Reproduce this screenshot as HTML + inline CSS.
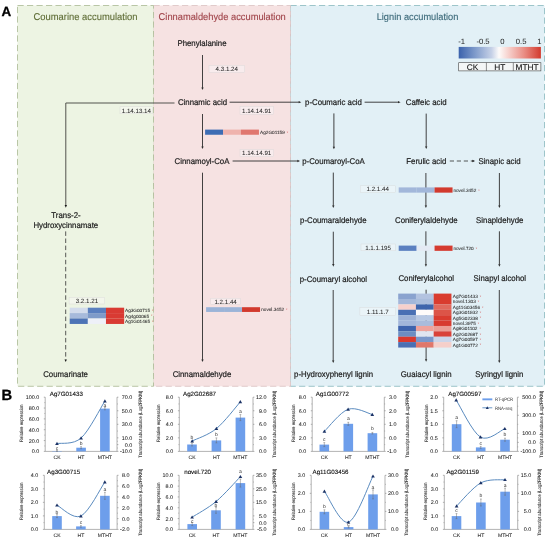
<!DOCTYPE html>
<html><head><meta charset="utf-8"><style>
html,body{margin:0;padding:0;background:#fff;}
svg{display:block;will-change:transform;}
text{font-family:"Liberation Sans", sans-serif;text-rendering:geometricPrecision;}
</style></head><body>
<svg width="550" height="542" viewBox="0 0 550 542" font-family='"Liberation Sans", sans-serif'>
<rect width="550" height="542" fill="#fff"/>
<rect x="290.50" y="5.50" width="254.00" height="380.80" fill="#e2f0f6" stroke="#88b8be" stroke-width="0.8" stroke-dasharray="6.2,3.3"/>
<rect x="153.50" y="5.50" width="137.00" height="380.80" fill="#f6e2e2" stroke="#dbc2c2" stroke-width="0.8" stroke-dasharray="6.2,3.3"/>
<rect x="17.50" y="5.50" width="136.00" height="380.80" fill="#edf4e3" stroke="#aab993" stroke-width="0.8" stroke-dasharray="6.2,3.3"/>
<text x="1.40" y="15.80" font-size="13.4" fill="#000" text-anchor="start" font-weight="bold" stroke="#000" stroke-width="0.3" >A</text>
<text x="85.50" y="19.70" font-size="9.9" fill="#5f6d36" text-anchor="middle" font-weight="normal" stroke="#5f6d36" stroke-width="0.12" textLength="104.00" lengthAdjust="spacingAndGlyphs" >Coumarine accumulation</text>
<text x="222.20" y="19.60" font-size="9.9" fill="#a0444a" text-anchor="middle" font-weight="normal" stroke="#a0444a" stroke-width="0.12" textLength="127.20" lengthAdjust="spacingAndGlyphs" >Cinnamaldehyde accumulation</text>
<text x="417.50" y="19.80" font-size="9.8" fill="#3a6878" text-anchor="middle" font-weight="normal" stroke="#3a6878" stroke-width="0.12" textLength="81.60" lengthAdjust="spacingAndGlyphs" >Lignin accumulation</text>
<defs><linearGradient id="cb" x1="0" x2="1" y1="0" y2="0"><stop offset="0" stop-color="#3b62ac"/><stop offset="0.2" stop-color="#7f9bcb"/><stop offset="0.4" stop-color="#c6d1e7"/><stop offset="0.49" stop-color="#fdfbfa"/><stop offset="0.6" stop-color="#f7d3cf"/><stop offset="0.8" stop-color="#e98b82"/><stop offset="1" stop-color="#d23a2e"/></linearGradient></defs>
<rect x="458.70" y="46.90" width="82.20" height="11.60" fill="url(#cb)"/>
<text x="461.70" y="44.20" font-size="7.7" fill="#1a1a1a" text-anchor="middle" font-weight="normal" >-1</text>
<text x="483.00" y="44.20" font-size="7.7" fill="#1a1a1a" text-anchor="middle" font-weight="normal" >-0.5</text>
<text x="502.50" y="44.20" font-size="7.7" fill="#1a1a1a" text-anchor="middle" font-weight="normal" >0</text>
<text x="521.10" y="44.20" font-size="7.7" fill="#1a1a1a" text-anchor="middle" font-weight="normal" >0.5</text>
<text x="539.40" y="44.20" font-size="7.7" fill="#1a1a1a" text-anchor="middle" font-weight="normal" >1</text>
<rect x="458.70" y="62.70" width="82.20" height="8.20" fill="#f4f6f6" stroke="#444" stroke-width="0.6"/>
<line x1="486.40" y1="62.70" x2="486.40" y2="70.90" stroke="#444" stroke-width="0.6"/>
<line x1="513.30" y1="62.70" x2="513.30" y2="70.90" stroke="#444" stroke-width="0.6"/>
<text x="472.50" y="70.40" font-size="8.3" fill="#111" text-anchor="middle" font-weight="normal" stroke="#111" stroke-width="0.1" >CK</text>
<text x="499.90" y="70.40" font-size="8.3" fill="#111" text-anchor="middle" font-weight="normal" stroke="#111" stroke-width="0.1" >HT</text>
<text x="527.10" y="70.40" font-size="8.3" fill="#111" text-anchor="middle" font-weight="normal" stroke="#111" stroke-width="0.1" >MTHT</text>
<text x="202.00" y="46.00" font-size="8.3" fill="#1c1c1c" text-anchor="middle" font-weight="normal" stroke="#1c1c1c" stroke-width="0.2" textLength="49.13" lengthAdjust="spacingAndGlyphs" >Phenylalanine</text>
<text x="202.50" y="104.70" font-size="8.3" fill="#1c1c1c" text-anchor="middle" font-weight="normal" stroke="#1c1c1c" stroke-width="0.2" textLength="49.11" lengthAdjust="spacingAndGlyphs" >Cinnamic acid</text>
<text x="202.00" y="163.80" font-size="8.3" fill="#1c1c1c" text-anchor="middle" font-weight="normal" stroke="#1c1c1c" stroke-width="0.2" textLength="54.76" lengthAdjust="spacingAndGlyphs" >Cinnamoyl-CoA</text>
<text x="202.00" y="377.40" font-size="8.3" fill="#1c1c1c" text-anchor="middle" font-weight="normal" stroke="#1c1c1c" stroke-width="0.2" textLength="58.69" lengthAdjust="spacingAndGlyphs" >Cinnamaldehyde</text>
<text x="333.50" y="104.70" font-size="8.3" fill="#1c1c1c" text-anchor="middle" font-weight="normal" stroke="#1c1c1c" stroke-width="0.2" textLength="56.93" lengthAdjust="spacingAndGlyphs" >p-Coumaric acid</text>
<text x="426.20" y="104.70" font-size="8.3" fill="#1c1c1c" text-anchor="middle" font-weight="normal" stroke="#1c1c1c" stroke-width="0.2" textLength="40.72" lengthAdjust="spacingAndGlyphs" >Caffeic acid</text>
<text x="333.50" y="163.80" font-size="8.3" fill="#1c1c1c" text-anchor="middle" font-weight="normal" stroke="#1c1c1c" stroke-width="0.2" textLength="62.58" lengthAdjust="spacingAndGlyphs" >p-Coumaroyl-CoA</text>
<text x="426.30" y="163.60" font-size="8.3" fill="#1c1c1c" text-anchor="middle" font-weight="normal" stroke="#1c1c1c" stroke-width="0.2" textLength="39.98" lengthAdjust="spacingAndGlyphs" >Ferulic acid</text>
<text x="499.50" y="163.60" font-size="8.3" fill="#1c1c1c" text-anchor="middle" font-weight="normal" stroke="#1c1c1c" stroke-width="0.2" textLength="42.17" lengthAdjust="spacingAndGlyphs" >Sinapic acid</text>
<text x="333.30" y="222.70" font-size="8.3" fill="#1c1c1c" text-anchor="middle" font-weight="normal" stroke="#1c1c1c" stroke-width="0.2" textLength="66.51" lengthAdjust="spacingAndGlyphs" >p-Coumaraldehyde</text>
<text x="426.30" y="222.50" font-size="8.3" fill="#1c1c1c" text-anchor="middle" font-weight="normal" stroke="#1c1c1c" stroke-width="0.2" textLength="62.60" lengthAdjust="spacingAndGlyphs" >Coniferylaldehyde</text>
<text x="499.80" y="222.50" font-size="8.3" fill="#1c1c1c" text-anchor="middle" font-weight="normal" stroke="#1c1c1c" stroke-width="0.2" textLength="47.39" lengthAdjust="spacingAndGlyphs" >Sinapldehyde</text>
<text x="333.40" y="281.70" font-size="8.3" fill="#1c1c1c" text-anchor="middle" font-weight="normal" stroke="#1c1c1c" stroke-width="0.2" textLength="67.37" lengthAdjust="spacingAndGlyphs" >p-Coumaryl alcohol</text>
<text x="426.30" y="281.30" font-size="8.3" fill="#1c1c1c" text-anchor="middle" font-weight="normal" stroke="#1c1c1c" stroke-width="0.2" textLength="55.64" lengthAdjust="spacingAndGlyphs" >Coniferylalcohol</text>
<text x="499.80" y="281.30" font-size="8.3" fill="#1c1c1c" text-anchor="middle" font-weight="normal" stroke="#1c1c1c" stroke-width="0.2" textLength="52.60" lengthAdjust="spacingAndGlyphs" >Sinapyl alcohol</text>
<text x="333.60" y="377.40" font-size="8.3" fill="#1c1c1c" text-anchor="middle" font-weight="normal" stroke="#1c1c1c" stroke-width="0.2" textLength="79.11" lengthAdjust="spacingAndGlyphs" >p-Hydroxyphenyl lignin</text>
<text x="426.20" y="377.40" font-size="8.3" fill="#1c1c1c" text-anchor="middle" font-weight="normal" stroke="#1c1c1c" stroke-width="0.2" textLength="50.86" lengthAdjust="spacingAndGlyphs" >Guaiacyl lignin</text>
<text x="499.30" y="377.40" font-size="8.3" fill="#1c1c1c" text-anchor="middle" font-weight="normal" stroke="#1c1c1c" stroke-width="0.2" textLength="48.25" lengthAdjust="spacingAndGlyphs" >Syringyl lignin</text>
<text x="65.60" y="377.40" font-size="8.3" fill="#1c1c1c" text-anchor="middle" font-weight="normal" stroke="#1c1c1c" stroke-width="0.2" textLength="44.77" lengthAdjust="spacingAndGlyphs" >Coumarinate</text>
<text x="66.00" y="217.50" font-size="8.3" fill="#1c1c1c" text-anchor="middle" font-weight="normal" stroke="#1c1c1c" stroke-width="0.2" textLength="29.26" lengthAdjust="spacingAndGlyphs" >Trans-2-</text>
<text x="65.80" y="228.30" font-size="8.3" fill="#1c1c1c" text-anchor="middle" font-weight="normal" stroke="#1c1c1c" stroke-width="0.2" textLength="64.76" lengthAdjust="spacingAndGlyphs" >Hydroxycinnamate</text>
<line x1="202.50" y1="55.00" x2="202.50" y2="88.00" stroke="#2e2e2e" stroke-width="0.9"/>
<polygon points="201.33,87.40 203.67,87.40 202.50,90.00" fill="#2e2e2e"/>
<line x1="202.50" y1="114.00" x2="202.50" y2="147.00" stroke="#2e2e2e" stroke-width="0.9"/>
<polygon points="201.33,146.40 203.67,146.40 202.50,149.00" fill="#2e2e2e"/>
<line x1="202.50" y1="172.70" x2="202.50" y2="360.00" stroke="#2e2e2e" stroke-width="0.9"/>
<polygon points="201.33,359.40 203.67,359.40 202.50,362.00" fill="#2e2e2e"/>
<polyline points="174.5,103.0 65.8,103.0 65.8,205.5" fill="none" stroke="#4a4a46" stroke-width="0.95" stroke-linejoin="round"/>
<polygon points="64.63,205.10 66.97,205.10 65.80,207.70" fill="#151515"/>
<line x1="229.60" y1="102.20" x2="299.30" y2="102.20" stroke="#2e2e2e" stroke-width="0.9"/>
<polygon points="298.70,101.03 298.70,103.37 301.30,102.20" fill="#2e2e2e"/>
<line x1="364.60" y1="102.20" x2="398.60" y2="102.20" stroke="#2e2e2e" stroke-width="0.9"/>
<polygon points="398.00,101.03 398.00,103.37 400.60,102.20" fill="#2e2e2e"/>
<line x1="232.60" y1="161.00" x2="298.00" y2="161.00" stroke="#2e2e2e" stroke-width="0.9"/>
<polygon points="297.40,159.83 297.40,162.17 300.00,161.00" fill="#2e2e2e"/>
<line x1="333.90" y1="113.40" x2="333.90" y2="147.30" stroke="#2e2e2e" stroke-width="0.9"/>
<polygon points="332.73,146.70 335.07,146.70 333.90,149.30" fill="#2e2e2e"/>
<line x1="426.20" y1="113.60" x2="426.20" y2="147.00" stroke="#2e2e2e" stroke-width="0.9"/>
<polygon points="425.03,146.40 427.37,146.40 426.20,149.00" fill="#2e2e2e"/>
<line x1="449.80" y1="161.00" x2="473.00" y2="161.00" stroke="#2e2e2e" stroke-width="0.8" stroke-dasharray="4.2,2.8"/>
<polygon points="472.40,159.83 472.40,162.17 475.00,161.00" fill="#151515"/>
<line x1="333.30" y1="172.60" x2="333.30" y2="206.00" stroke="#2e2e2e" stroke-width="0.9"/>
<polygon points="332.13,205.40 334.47,205.40 333.30,208.00" fill="#2e2e2e"/>
<line x1="425.90" y1="173.00" x2="425.90" y2="206.00" stroke="#2e2e2e" stroke-width="0.9"/>
<polygon points="424.73,205.40 427.07,205.40 425.90,208.00" fill="#2e2e2e"/>
<line x1="499.40" y1="173.00" x2="499.40" y2="206.00" stroke="#2e2e2e" stroke-width="0.9"/>
<polygon points="498.23,205.40 500.57,205.40 499.40,208.00" fill="#2e2e2e"/>
<line x1="333.30" y1="231.70" x2="333.30" y2="264.70" stroke="#2e2e2e" stroke-width="0.9"/>
<polygon points="332.13,264.10 334.47,264.10 333.30,266.70" fill="#2e2e2e"/>
<line x1="425.90" y1="231.30" x2="425.90" y2="264.80" stroke="#2e2e2e" stroke-width="0.9"/>
<polygon points="424.73,264.20 427.07,264.20 425.90,266.80" fill="#2e2e2e"/>
<line x1="499.40" y1="231.30" x2="499.40" y2="264.80" stroke="#2e2e2e" stroke-width="0.9"/>
<polygon points="498.23,264.20 500.57,264.20 499.40,266.80" fill="#2e2e2e"/>
<line x1="333.20" y1="290.00" x2="333.20" y2="361.00" stroke="#2e2e2e" stroke-width="0.9"/>
<polygon points="332.03,360.40 334.37,360.40 333.20,363.00" fill="#2e2e2e"/>
<line x1="426.10" y1="289.70" x2="426.10" y2="359.80" stroke="#2e2e2e" stroke-width="0.9"/>
<polygon points="424.93,359.20 427.27,359.20 426.10,361.80" fill="#2e2e2e"/>
<line x1="499.30" y1="290.00" x2="499.30" y2="361.00" stroke="#2e2e2e" stroke-width="0.9"/>
<polygon points="498.13,360.40 500.47,360.40 499.30,363.00" fill="#2e2e2e"/>
<line x1="65.70" y1="231.40" x2="65.70" y2="359.50" stroke="#2e2e2e" stroke-width="0.8" stroke-dasharray="4.5,2.6"/>
<polygon points="64.53,359.40 66.87,359.40 65.70,362.00" fill="#151515"/>
<rect x="209.00" y="65.50" width="35.50" height="6.80" fill="#f8eced" stroke="#d8d8d8" stroke-width="0.4"/>
<text x="226.75" y="71.10" font-size="6.2" fill="#1e1e1e" text-anchor="middle" font-weight="normal" stroke="#1e1e1e" stroke-width="0.03" >4.3.1.24</text>
<rect x="120.00" y="106.80" width="32.70" height="7.00" fill="#f3f6ec" stroke="#d8d8d8" stroke-width="0.4"/>
<text x="136.35" y="112.50" font-size="6.2" fill="#1e1e1e" text-anchor="middle" font-weight="normal" stroke="#1e1e1e" stroke-width="0.03" >1.14.13.14</text>
<rect x="240.00" y="106.50" width="33.30" height="7.70" fill="#f8eced" stroke="#d8d8d8" stroke-width="0.4"/>
<text x="256.65" y="112.55" font-size="6.2" fill="#1e1e1e" text-anchor="middle" font-weight="normal" stroke="#1e1e1e" stroke-width="0.03" >1.14.14.91</text>
<rect x="240.00" y="149.60" width="33.30" height="7.00" fill="#f8eced" stroke="#d8d8d8" stroke-width="0.4"/>
<text x="256.65" y="155.30" font-size="6.2" fill="#1e1e1e" text-anchor="middle" font-weight="normal" stroke="#1e1e1e" stroke-width="0.03" >1.14.14.91</text>
<rect x="210.80" y="298.20" width="29.60" height="6.20" fill="#f8eced" stroke="#d8d8d8" stroke-width="0.4"/>
<text x="225.60" y="303.50" font-size="6.2" fill="#1e1e1e" text-anchor="middle" font-weight="normal" stroke="#1e1e1e" stroke-width="0.03" >1.2.1.44</text>
<rect x="69.10" y="297.20" width="35.60" height="6.80" fill="#f3f6ec" stroke="#d8d8d8" stroke-width="0.4"/>
<text x="86.90" y="302.80" font-size="6.2" fill="#1e1e1e" text-anchor="middle" font-weight="normal" stroke="#1e1e1e" stroke-width="0.03" >3.2.1.21</text>
<rect x="360.20" y="185.80" width="35.00" height="6.90" fill="#eaf4f8" stroke="#d8d8d8" stroke-width="0.4"/>
<text x="377.70" y="191.45" font-size="6.2" fill="#1e1e1e" text-anchor="middle" font-weight="normal" stroke="#1e1e1e" stroke-width="0.03" >1.2.1.44</text>
<rect x="361.00" y="244.00" width="34.20" height="6.80" fill="#eaf4f8" stroke="#d8d8d8" stroke-width="0.4"/>
<text x="378.10" y="249.60" font-size="6.2" fill="#1e1e1e" text-anchor="middle" font-weight="normal" stroke="#1e1e1e" stroke-width="0.03" >1.1.1.195</text>
<rect x="359.90" y="307.50" width="35.70" height="7.80" fill="#eaf4f8" stroke="#d8d8d8" stroke-width="0.4"/>
<text x="377.75" y="313.60" font-size="6.2" fill="#1e1e1e" text-anchor="middle" font-weight="normal" stroke="#1e1e1e" stroke-width="0.03" >1.11.1.7</text>
<rect x="205.10" y="129.60" width="17.98" height="5.15" fill="#3d6db4"/>
<rect x="223.03" y="129.60" width="17.98" height="5.15" fill="#efb3ad"/>
<rect x="240.97" y="129.60" width="17.98" height="5.15" fill="#e0776f"/>
<text x="260.10" y="133.85" font-size="4.7" fill="#1e1e1e" text-anchor="start" font-weight="normal" stroke="#1e1e1e" stroke-width="0.05" >Ag2G01159</text>
<text x="286.74" y="133.75" font-size="3.6" fill="#d04848" text-anchor="start" font-weight="normal" >*</text>
<rect x="69.70" y="307.70" width="18.18" height="5.45" fill="#d3dcec"/>
<rect x="87.83" y="307.70" width="18.18" height="5.45" fill="#5a7fbf"/>
<rect x="105.97" y="307.70" width="18.18" height="5.45" fill="#d93a33"/>
<rect x="69.70" y="313.10" width="18.18" height="5.45" fill="#a7badb"/>
<rect x="87.83" y="313.10" width="18.18" height="5.45" fill="#7f9bc9"/>
<rect x="105.97" y="313.10" width="18.18" height="5.45" fill="#d93a33"/>
<rect x="69.70" y="318.50" width="18.18" height="5.45" fill="#4d73b6"/>
<rect x="87.83" y="318.50" width="18.18" height="5.45" fill="#eef0f8"/>
<rect x="105.97" y="318.50" width="18.18" height="5.45" fill="#d93a33"/>
<text x="125.00" y="312.10" font-size="4.7" fill="#1e1e1e" text-anchor="start" font-weight="normal" stroke="#1e1e1e" stroke-width="0.05" >Ag3G00715</text>
<text x="151.99" y="312.00" font-size="3.6" fill="#d04848" text-anchor="start" font-weight="normal" >*</text>
<text x="125.00" y="317.50" font-size="4.7" fill="#1e1e1e" text-anchor="start" font-weight="normal" stroke="#1e1e1e" stroke-width="0.05" >Ag4g00065</text>
<text x="150.95" y="317.40" font-size="3.6" fill="#d04848" text-anchor="start" font-weight="normal" >*</text>
<text x="125.00" y="322.90" font-size="4.7" fill="#1e1e1e" text-anchor="start" font-weight="normal" stroke="#1e1e1e" stroke-width="0.05" >Ag1G01465</text>
<text x="151.99" y="322.80" font-size="3.6" fill="#d04848" text-anchor="start" font-weight="normal" >*</text>
<rect x="206.10" y="307.20" width="18.02" height="4.75" fill="#9bb4d8"/>
<rect x="224.07" y="307.20" width="18.02" height="4.75" fill="#9bb4d8"/>
<rect x="242.03" y="307.20" width="18.02" height="4.75" fill="#d23a2e"/>
<text x="261.20" y="311.25" font-size="4.7" fill="#1e1e1e" text-anchor="start" font-weight="normal" stroke="#1e1e1e" stroke-width="0.05" >novel.3452</text>
<text x="286.10" y="311.15" font-size="3.6" fill="#d04848" text-anchor="start" font-weight="normal" >*</text>
<rect x="398.70" y="187.40" width="17.98" height="5.25" fill="#a2b7da"/>
<rect x="416.63" y="187.40" width="17.98" height="5.25" fill="#a2b7da"/>
<rect x="434.57" y="187.40" width="17.98" height="5.25" fill="#d23a2e"/>
<text x="453.40" y="191.70" font-size="4.7" fill="#1e1e1e" text-anchor="start" font-weight="normal" stroke="#1e1e1e" stroke-width="0.05" >novel.3452</text>
<text x="478.30" y="191.60" font-size="3.6" fill="#d04848" text-anchor="start" font-weight="normal" >*</text>
<rect x="398.70" y="245.60" width="17.98" height="5.25" fill="#5b80c0"/>
<rect x="416.63" y="245.60" width="17.98" height="5.25" fill="#e4eaf4"/>
<rect x="434.57" y="245.60" width="17.98" height="5.25" fill="#d53b30"/>
<text x="453.40" y="249.90" font-size="4.7" fill="#1e1e1e" text-anchor="start" font-weight="normal" stroke="#1e1e1e" stroke-width="0.05" >novel.720</text>
<text x="475.68" y="249.80" font-size="3.6" fill="#d04848" text-anchor="start" font-weight="normal" >*</text>
<rect x="398.20" y="293.60" width="17.78" height="5.44" fill="#8aa3cf"/>
<rect x="415.93" y="293.60" width="17.78" height="5.44" fill="#b3c3e0"/>
<rect x="433.67" y="293.60" width="17.78" height="5.44" fill="#d93c2f"/>
<rect x="398.20" y="298.99" width="17.78" height="5.44" fill="#a3b7da"/>
<rect x="415.93" y="298.99" width="17.78" height="5.44" fill="#aabddc"/>
<rect x="433.67" y="298.99" width="17.78" height="5.44" fill="#d93c2f"/>
<rect x="398.20" y="304.38" width="17.78" height="5.44" fill="#f6d0cc"/>
<rect x="415.93" y="304.38" width="17.78" height="5.44" fill="#3e65ac"/>
<rect x="433.67" y="304.38" width="17.78" height="5.44" fill="#e06a5e"/>
<rect x="398.20" y="309.77" width="17.78" height="5.44" fill="#4a70b4"/>
<rect x="415.93" y="309.77" width="17.78" height="5.44" fill="#fefbfa"/>
<rect x="433.67" y="309.77" width="17.78" height="5.44" fill="#dc5448"/>
<rect x="398.20" y="315.16" width="17.78" height="5.44" fill="#9db2d7"/>
<rect x="415.93" y="315.16" width="17.78" height="5.44" fill="#b8c8e3"/>
<rect x="433.67" y="315.16" width="17.78" height="5.44" fill="#d93c30"/>
<rect x="398.20" y="320.55" width="17.78" height="5.44" fill="#a2b6da"/>
<rect x="415.93" y="320.55" width="17.78" height="5.44" fill="#a9bcdc"/>
<rect x="433.67" y="320.55" width="17.78" height="5.44" fill="#d83b30"/>
<rect x="398.20" y="325.94" width="17.78" height="5.44" fill="#3e64ad"/>
<rect x="415.93" y="325.94" width="17.78" height="5.44" fill="#eea39c"/>
<rect x="433.67" y="325.94" width="17.78" height="5.44" fill="#eb9d95"/>
<rect x="398.20" y="331.33" width="17.78" height="5.44" fill="#6c8dc3"/>
<rect x="415.93" y="331.33" width="17.78" height="5.44" fill="#dfe5f1"/>
<rect x="433.67" y="331.33" width="17.78" height="5.44" fill="#d9423a"/>
<rect x="398.20" y="336.72" width="17.78" height="5.44" fill="#d9392f"/>
<rect x="415.93" y="336.72" width="17.78" height="5.44" fill="#7a97ca"/>
<rect x="433.67" y="336.72" width="17.78" height="5.44" fill="#cbd5ea"/>
<rect x="398.20" y="342.11" width="17.78" height="5.44" fill="#4a6fb3"/>
<rect x="415.93" y="342.11" width="17.78" height="5.44" fill="#e0776b"/>
<rect x="433.67" y="342.11" width="17.78" height="5.44" fill="#f5cfca"/>
<text x="452.80" y="298.00" font-size="4.7" fill="#1e1e1e" text-anchor="start" font-weight="normal" stroke="#1e1e1e" stroke-width="0.05" >Ag7G01433</text>
<text x="479.79" y="297.90" font-size="3.6" fill="#d04848" text-anchor="start" font-weight="normal" >*</text>
<text x="452.80" y="303.38" font-size="4.7" fill="#1e1e1e" text-anchor="start" font-weight="normal" stroke="#1e1e1e" stroke-width="0.05" >novel.1303</text>
<text x="477.70" y="303.29" font-size="3.6" fill="#d04848" text-anchor="start" font-weight="normal" >*</text>
<text x="452.80" y="308.78" font-size="4.7" fill="#1e1e1e" text-anchor="start" font-weight="normal" stroke="#1e1e1e" stroke-width="0.05" >Ag11G03456</text>
<text x="482.05" y="308.68" font-size="3.6" fill="#d04848" text-anchor="start" font-weight="normal" >*</text>
<text x="452.80" y="314.17" font-size="4.7" fill="#1e1e1e" text-anchor="start" font-weight="normal" stroke="#1e1e1e" stroke-width="0.05" >Ag3G01932</text>
<text x="479.79" y="314.07" font-size="3.6" fill="#d04848" text-anchor="start" font-weight="normal" >*</text>
<text x="452.80" y="319.56" font-size="4.7" fill="#1e1e1e" text-anchor="start" font-weight="normal" stroke="#1e1e1e" stroke-width="0.05" >Ag5G02338</text>
<text x="479.79" y="319.46" font-size="3.6" fill="#d04848" text-anchor="start" font-weight="normal" >*</text>
<text x="452.80" y="324.94" font-size="4.7" fill="#1e1e1e" text-anchor="start" font-weight="normal" stroke="#1e1e1e" stroke-width="0.05" >novel.3975</text>
<text x="477.70" y="324.85" font-size="3.6" fill="#d04848" text-anchor="start" font-weight="normal" >*</text>
<text x="452.80" y="330.33" font-size="4.7" fill="#1e1e1e" text-anchor="start" font-weight="normal" stroke="#1e1e1e" stroke-width="0.05" >Ag8G01102</text>
<text x="479.44" y="330.24" font-size="3.6" fill="#d04848" text-anchor="start" font-weight="normal" >*</text>
<text x="452.80" y="335.72" font-size="4.7" fill="#1e1e1e" text-anchor="start" font-weight="normal" stroke="#1e1e1e" stroke-width="0.05" >Ag2G02687</text>
<text x="479.79" y="335.62" font-size="3.6" fill="#d04848" text-anchor="start" font-weight="normal" >*</text>
<text x="452.80" y="341.12" font-size="4.7" fill="#1e1e1e" text-anchor="start" font-weight="normal" stroke="#1e1e1e" stroke-width="0.05" >Ag7G00597</text>
<text x="479.79" y="341.02" font-size="3.6" fill="#d04848" text-anchor="start" font-weight="normal" >*</text>
<text x="452.80" y="346.50" font-size="4.7" fill="#1e1e1e" text-anchor="start" font-weight="normal" stroke="#1e1e1e" stroke-width="0.05" >Ag1G00772</text>
<text x="479.79" y="346.41" font-size="3.6" fill="#d04848" text-anchor="start" font-weight="normal" >*</text>
<text x="1.60" y="400.00" font-size="14.8" fill="#000" text-anchor="start" font-weight="bold" stroke="#000" stroke-width="0.3" >B</text>
<line x1="45.20" y1="397.20" x2="45.20" y2="451.40" stroke="#808080" stroke-width="0.6"/>
<line x1="117.00" y1="397.20" x2="117.00" y2="451.40" stroke="#808080" stroke-width="0.6"/>
<line x1="45.20" y1="451.40" x2="117.00" y2="451.40" stroke="#808080" stroke-width="0.6"/>
<line x1="43.80" y1="397.20" x2="45.20" y2="397.20" stroke="#808080" stroke-width="0.6"/>
<line x1="44.30" y1="402.62" x2="45.20" y2="402.62" stroke="#808080" stroke-width="0.5"/>
<text x="39.20" y="399.15" font-size="5.4" fill="#222" text-anchor="end" font-weight="normal" stroke="#222" stroke-width="0.06" >100.0</text>
<line x1="43.80" y1="408.04" x2="45.20" y2="408.04" stroke="#808080" stroke-width="0.6"/>
<line x1="44.30" y1="413.46" x2="45.20" y2="413.46" stroke="#808080" stroke-width="0.5"/>
<text x="39.20" y="409.99" font-size="5.4" fill="#222" text-anchor="end" font-weight="normal" stroke="#222" stroke-width="0.06" >80.0</text>
<line x1="43.80" y1="418.88" x2="45.20" y2="418.88" stroke="#808080" stroke-width="0.6"/>
<line x1="44.30" y1="424.30" x2="45.20" y2="424.30" stroke="#808080" stroke-width="0.5"/>
<text x="39.20" y="420.83" font-size="5.4" fill="#222" text-anchor="end" font-weight="normal" stroke="#222" stroke-width="0.06" >60.0</text>
<line x1="43.80" y1="429.72" x2="45.20" y2="429.72" stroke="#808080" stroke-width="0.6"/>
<line x1="44.30" y1="435.14" x2="45.20" y2="435.14" stroke="#808080" stroke-width="0.5"/>
<text x="39.20" y="431.67" font-size="5.4" fill="#222" text-anchor="end" font-weight="normal" stroke="#222" stroke-width="0.06" >40.0</text>
<line x1="43.80" y1="440.56" x2="45.20" y2="440.56" stroke="#808080" stroke-width="0.6"/>
<line x1="44.30" y1="445.98" x2="45.20" y2="445.98" stroke="#808080" stroke-width="0.5"/>
<text x="39.20" y="442.51" font-size="5.4" fill="#222" text-anchor="end" font-weight="normal" stroke="#222" stroke-width="0.06" >20.0</text>
<line x1="43.80" y1="451.40" x2="45.20" y2="451.40" stroke="#808080" stroke-width="0.6"/>
<text x="39.20" y="453.35" font-size="5.4" fill="#222" text-anchor="end" font-weight="normal" stroke="#222" stroke-width="0.06" >0.0</text>
<line x1="117.00" y1="397.20" x2="118.40" y2="397.20" stroke="#808080" stroke-width="0.6"/>
<text x="132.31" y="399.15" font-size="5.4" fill="#222" text-anchor="end" font-weight="normal" stroke="#222" stroke-width="0.06" >70.0</text>
<line x1="117.00" y1="403.98" x2="117.90" y2="403.98" stroke="#808080" stroke-width="0.5"/>
<line x1="117.00" y1="410.75" x2="118.40" y2="410.75" stroke="#808080" stroke-width="0.6"/>
<text x="132.31" y="412.70" font-size="5.4" fill="#222" text-anchor="end" font-weight="normal" stroke="#222" stroke-width="0.06" >50.0</text>
<line x1="117.00" y1="417.52" x2="117.90" y2="417.52" stroke="#808080" stroke-width="0.5"/>
<line x1="117.00" y1="424.30" x2="118.40" y2="424.30" stroke="#808080" stroke-width="0.6"/>
<text x="132.31" y="426.25" font-size="5.4" fill="#222" text-anchor="end" font-weight="normal" stroke="#222" stroke-width="0.06" >30.0</text>
<line x1="117.00" y1="431.07" x2="117.90" y2="431.07" stroke="#808080" stroke-width="0.5"/>
<line x1="117.00" y1="437.85" x2="118.40" y2="437.85" stroke="#808080" stroke-width="0.6"/>
<text x="132.31" y="439.80" font-size="5.4" fill="#222" text-anchor="end" font-weight="normal" stroke="#222" stroke-width="0.06" >10.0</text>
<line x1="117.00" y1="441.24" x2="117.90" y2="441.24" stroke="#808080" stroke-width="0.5"/>
<line x1="117.00" y1="444.62" x2="118.40" y2="444.62" stroke="#808080" stroke-width="0.6"/>
<text x="132.31" y="446.57" font-size="5.4" fill="#222" text-anchor="end" font-weight="normal" stroke="#222" stroke-width="0.06" >0.0</text>
<line x1="117.00" y1="448.01" x2="117.90" y2="448.01" stroke="#808080" stroke-width="0.5"/>
<line x1="117.00" y1="451.40" x2="118.40" y2="451.40" stroke="#808080" stroke-width="0.6"/>
<text x="132.31" y="453.35" font-size="5.4" fill="#222" text-anchor="end" font-weight="normal" stroke="#222" stroke-width="0.06" >-10.0</text>
<text x="49.80" y="396.00" font-size="6.2" fill="#111" text-anchor="start" font-weight="normal" stroke="#111" stroke-width="0.12" >Ag7G01433</text>
<text transform="translate(22.10,423.30) rotate(-90)" font-size="4.8" fill="#222" stroke="#222" stroke-width="0.06" text-anchor="middle" dominant-baseline="central" textLength="37.52" lengthAdjust="spacingAndGlyphs">Relative expression</text>
<text transform="translate(141.00,424.30) rotate(-90)" font-size="4.8" fill="#222" stroke="#222" stroke-width="0.06" text-anchor="middle" dominant-baseline="central" textLength="67.00" lengthAdjust="spacingAndGlyphs">Transcript abundance (Log2FPKM)</text>
<text x="57.00" y="459.30" font-size="5.1" fill="#222" text-anchor="middle" font-weight="normal" stroke="#222" stroke-width="0.06" >CK</text>
<text x="81.10" y="459.30" font-size="5.1" fill="#222" text-anchor="middle" font-weight="normal" stroke="#222" stroke-width="0.06" >HT</text>
<text x="104.90" y="459.30" font-size="5.1" fill="#222" text-anchor="middle" font-weight="normal" stroke="#222" stroke-width="0.06" >MTHT</text>
<rect x="52.20" y="451.00" width="9.60" height="0.40" fill="#6d9eeb"/>
<rect x="76.30" y="447.70" width="9.60" height="3.70" fill="#6d9eeb"/>
<rect x="100.10" y="408.60" width="9.60" height="42.80" fill="#6d9eeb"/>
<line x1="57.00" y1="450.60" x2="57.00" y2="451.40" stroke="#666" stroke-width="0.45"/>
<line x1="56.10" y1="450.60" x2="57.90" y2="450.60" stroke="#666" stroke-width="0.45"/>
<line x1="56.10" y1="451.40" x2="57.90" y2="451.40" stroke="#666" stroke-width="0.45"/>
<line x1="81.10" y1="446.70" x2="81.10" y2="448.70" stroke="#666" stroke-width="0.45"/>
<line x1="80.20" y1="446.70" x2="82.00" y2="446.70" stroke="#666" stroke-width="0.45"/>
<line x1="80.20" y1="448.70" x2="82.00" y2="448.70" stroke="#666" stroke-width="0.45"/>
<line x1="104.90" y1="407.40" x2="104.90" y2="409.80" stroke="#666" stroke-width="0.45"/>
<line x1="104.00" y1="407.40" x2="105.80" y2="407.40" stroke="#666" stroke-width="0.45"/>
<line x1="104.00" y1="409.80" x2="105.80" y2="409.80" stroke="#666" stroke-width="0.45"/>
<path d="M57.00,443.60 C61.02,442.67 73.12,445.10 81.10,438.00 C89.08,430.90 100.93,407.17 104.90,401.00" fill="none" stroke="#5a8bbf" stroke-width="1.0"/>
<polygon points="55.15,445.00 58.85,445.00 57.00,441.80" fill="#1c3366"/>
<polygon points="79.25,439.40 82.95,439.40 81.10,436.20" fill="#1c3366"/>
<polygon points="103.05,402.40 106.75,402.40 104.90,399.20" fill="#1c3366"/>
<text x="57.00" y="449.70" font-size="5.0" fill="#333" text-anchor="middle" font-weight="normal" >c</text>
<text x="81.10" y="445.30" font-size="5.0" fill="#333" text-anchor="middle" font-weight="normal" >b</text>
<text x="104.90" y="406.60" font-size="5.0" fill="#333" text-anchor="middle" font-weight="normal" >a</text>
<line x1="179.30" y1="397.20" x2="179.30" y2="451.40" stroke="#808080" stroke-width="0.6"/>
<line x1="253.00" y1="397.20" x2="253.00" y2="451.40" stroke="#808080" stroke-width="0.6"/>
<line x1="179.30" y1="451.40" x2="253.00" y2="451.40" stroke="#808080" stroke-width="0.6"/>
<line x1="177.90" y1="397.20" x2="179.30" y2="397.20" stroke="#808080" stroke-width="0.6"/>
<line x1="178.40" y1="403.97" x2="179.30" y2="403.97" stroke="#808080" stroke-width="0.5"/>
<text x="173.30" y="399.15" font-size="5.4" fill="#222" text-anchor="end" font-weight="normal" stroke="#222" stroke-width="0.06" >8.0</text>
<line x1="177.90" y1="410.75" x2="179.30" y2="410.75" stroke="#808080" stroke-width="0.6"/>
<line x1="178.40" y1="417.52" x2="179.30" y2="417.52" stroke="#808080" stroke-width="0.5"/>
<text x="173.30" y="412.70" font-size="5.4" fill="#222" text-anchor="end" font-weight="normal" stroke="#222" stroke-width="0.06" >6.0</text>
<line x1="177.90" y1="424.30" x2="179.30" y2="424.30" stroke="#808080" stroke-width="0.6"/>
<line x1="178.40" y1="431.07" x2="179.30" y2="431.07" stroke="#808080" stroke-width="0.5"/>
<text x="173.30" y="426.25" font-size="5.4" fill="#222" text-anchor="end" font-weight="normal" stroke="#222" stroke-width="0.06" >4.0</text>
<line x1="177.90" y1="437.85" x2="179.30" y2="437.85" stroke="#808080" stroke-width="0.6"/>
<line x1="178.40" y1="444.62" x2="179.30" y2="444.62" stroke="#808080" stroke-width="0.5"/>
<text x="173.30" y="439.80" font-size="5.4" fill="#222" text-anchor="end" font-weight="normal" stroke="#222" stroke-width="0.06" >2.0</text>
<line x1="177.90" y1="451.40" x2="179.30" y2="451.40" stroke="#808080" stroke-width="0.6"/>
<text x="173.30" y="453.35" font-size="5.4" fill="#222" text-anchor="end" font-weight="normal" stroke="#222" stroke-width="0.06" >0.0</text>
<line x1="253.00" y1="397.20" x2="254.40" y2="397.20" stroke="#808080" stroke-width="0.6"/>
<text x="266.51" y="399.15" font-size="5.4" fill="#222" text-anchor="end" font-weight="normal" stroke="#222" stroke-width="0.06" >12.0</text>
<line x1="253.00" y1="403.98" x2="253.90" y2="403.98" stroke="#808080" stroke-width="0.5"/>
<line x1="253.00" y1="410.75" x2="254.40" y2="410.75" stroke="#808080" stroke-width="0.6"/>
<text x="266.51" y="412.70" font-size="5.4" fill="#222" text-anchor="end" font-weight="normal" stroke="#222" stroke-width="0.06" >9.0</text>
<line x1="253.00" y1="417.52" x2="253.90" y2="417.52" stroke="#808080" stroke-width="0.5"/>
<line x1="253.00" y1="424.30" x2="254.40" y2="424.30" stroke="#808080" stroke-width="0.6"/>
<text x="266.51" y="426.25" font-size="5.4" fill="#222" text-anchor="end" font-weight="normal" stroke="#222" stroke-width="0.06" >6.0</text>
<line x1="253.00" y1="431.07" x2="253.90" y2="431.07" stroke="#808080" stroke-width="0.5"/>
<line x1="253.00" y1="437.85" x2="254.40" y2="437.85" stroke="#808080" stroke-width="0.6"/>
<text x="266.51" y="439.80" font-size="5.4" fill="#222" text-anchor="end" font-weight="normal" stroke="#222" stroke-width="0.06" >3.0</text>
<line x1="253.00" y1="444.62" x2="253.90" y2="444.62" stroke="#808080" stroke-width="0.5"/>
<line x1="253.00" y1="451.40" x2="254.40" y2="451.40" stroke="#808080" stroke-width="0.6"/>
<text x="266.51" y="453.35" font-size="5.4" fill="#222" text-anchor="end" font-weight="normal" stroke="#222" stroke-width="0.06" >0.0</text>
<text x="183.00" y="396.00" font-size="6.2" fill="#111" text-anchor="start" font-weight="normal" stroke="#111" stroke-width="0.12" >Ag2G02687</text>
<text transform="translate(159.00,423.30) rotate(-90)" font-size="4.8" fill="#222" stroke="#222" stroke-width="0.06" text-anchor="middle" dominant-baseline="central" textLength="37.52" lengthAdjust="spacingAndGlyphs">Relative expression</text>
<text transform="translate(275.20,424.30) rotate(-90)" font-size="4.8" fill="#222" stroke="#222" stroke-width="0.06" text-anchor="middle" dominant-baseline="central" textLength="67.00" lengthAdjust="spacingAndGlyphs">Transcript abundance (Log2FPKM)</text>
<text x="192.00" y="459.30" font-size="5.1" fill="#222" text-anchor="middle" font-weight="normal" stroke="#222" stroke-width="0.06" >CK</text>
<text x="216.40" y="459.30" font-size="5.1" fill="#222" text-anchor="middle" font-weight="normal" stroke="#222" stroke-width="0.06" >HT</text>
<text x="240.40" y="459.30" font-size="5.1" fill="#222" text-anchor="middle" font-weight="normal" stroke="#222" stroke-width="0.06" >MTHT</text>
<rect x="187.20" y="444.50" width="9.60" height="6.90" fill="#6d9eeb"/>
<rect x="211.60" y="440.40" width="9.60" height="11.00" fill="#6d9eeb"/>
<rect x="235.60" y="417.60" width="9.60" height="33.80" fill="#6d9eeb"/>
<line x1="192.00" y1="443.00" x2="192.00" y2="446.00" stroke="#666" stroke-width="0.45"/>
<line x1="191.10" y1="443.00" x2="192.90" y2="443.00" stroke="#666" stroke-width="0.45"/>
<line x1="191.10" y1="446.00" x2="192.90" y2="446.00" stroke="#666" stroke-width="0.45"/>
<line x1="216.40" y1="437.90" x2="216.40" y2="442.90" stroke="#666" stroke-width="0.45"/>
<line x1="215.50" y1="437.90" x2="217.30" y2="437.90" stroke="#666" stroke-width="0.45"/>
<line x1="215.50" y1="442.90" x2="217.30" y2="442.90" stroke="#666" stroke-width="0.45"/>
<line x1="240.40" y1="414.60" x2="240.40" y2="420.60" stroke="#666" stroke-width="0.45"/>
<line x1="239.50" y1="414.60" x2="241.30" y2="414.60" stroke="#666" stroke-width="0.45"/>
<line x1="239.50" y1="420.60" x2="241.30" y2="420.60" stroke="#666" stroke-width="0.45"/>
<path d="M192.20,441.00 C196.23,438.93 208.38,435.12 216.40,428.60 C224.42,422.08 236.32,406.35 240.30,401.90" fill="none" stroke="#5a8bbf" stroke-width="1.0"/>
<polygon points="190.35,442.40 194.05,442.40 192.20,439.20" fill="#1c3366"/>
<polygon points="214.55,430.00 218.25,430.00 216.40,426.80" fill="#1c3366"/>
<polygon points="238.45,403.30 242.15,403.30 240.30,400.10" fill="#1c3366"/>
<text x="192.00" y="438.60" font-size="5.0" fill="#333" text-anchor="middle" font-weight="normal" >b</text>
<text x="216.40" y="435.70" font-size="5.0" fill="#333" text-anchor="middle" font-weight="normal" >b</text>
<text x="240.40" y="412.80" font-size="5.0" fill="#333" text-anchor="middle" font-weight="normal" >a</text>
<line x1="312.20" y1="397.20" x2="312.20" y2="451.40" stroke="#808080" stroke-width="0.6"/>
<line x1="384.30" y1="397.20" x2="384.30" y2="451.40" stroke="#808080" stroke-width="0.6"/>
<line x1="312.20" y1="451.40" x2="384.30" y2="451.40" stroke="#808080" stroke-width="0.6"/>
<line x1="310.80" y1="397.20" x2="312.20" y2="397.20" stroke="#808080" stroke-width="0.6"/>
<line x1="311.30" y1="403.97" x2="312.20" y2="403.97" stroke="#808080" stroke-width="0.5"/>
<text x="306.20" y="399.15" font-size="5.4" fill="#222" text-anchor="end" font-weight="normal" stroke="#222" stroke-width="0.06" >8.0</text>
<line x1="310.80" y1="410.75" x2="312.20" y2="410.75" stroke="#808080" stroke-width="0.6"/>
<line x1="311.30" y1="417.52" x2="312.20" y2="417.52" stroke="#808080" stroke-width="0.5"/>
<text x="306.20" y="412.70" font-size="5.4" fill="#222" text-anchor="end" font-weight="normal" stroke="#222" stroke-width="0.06" >6.0</text>
<line x1="310.80" y1="424.30" x2="312.20" y2="424.30" stroke="#808080" stroke-width="0.6"/>
<line x1="311.30" y1="431.07" x2="312.20" y2="431.07" stroke="#808080" stroke-width="0.5"/>
<text x="306.20" y="426.25" font-size="5.4" fill="#222" text-anchor="end" font-weight="normal" stroke="#222" stroke-width="0.06" >4.0</text>
<line x1="310.80" y1="437.85" x2="312.20" y2="437.85" stroke="#808080" stroke-width="0.6"/>
<line x1="311.30" y1="444.62" x2="312.20" y2="444.62" stroke="#808080" stroke-width="0.5"/>
<text x="306.20" y="439.80" font-size="5.4" fill="#222" text-anchor="end" font-weight="normal" stroke="#222" stroke-width="0.06" >2.0</text>
<line x1="310.80" y1="451.40" x2="312.20" y2="451.40" stroke="#808080" stroke-width="0.6"/>
<text x="306.20" y="453.35" font-size="5.4" fill="#222" text-anchor="end" font-weight="normal" stroke="#222" stroke-width="0.06" >0.0</text>
<line x1="384.30" y1="397.20" x2="385.70" y2="397.20" stroke="#808080" stroke-width="0.6"/>
<text x="396.60" y="399.15" font-size="5.4" fill="#222" text-anchor="end" font-weight="normal" stroke="#222" stroke-width="0.06" >3.0</text>
<line x1="384.30" y1="403.98" x2="385.20" y2="403.98" stroke="#808080" stroke-width="0.5"/>
<line x1="384.30" y1="410.75" x2="385.70" y2="410.75" stroke="#808080" stroke-width="0.6"/>
<text x="396.60" y="412.70" font-size="5.4" fill="#222" text-anchor="end" font-weight="normal" stroke="#222" stroke-width="0.06" >2.0</text>
<line x1="384.30" y1="417.52" x2="385.20" y2="417.52" stroke="#808080" stroke-width="0.5"/>
<line x1="384.30" y1="424.30" x2="385.70" y2="424.30" stroke="#808080" stroke-width="0.6"/>
<text x="396.60" y="426.25" font-size="5.4" fill="#222" text-anchor="end" font-weight="normal" stroke="#222" stroke-width="0.06" >1.0</text>
<line x1="384.30" y1="431.07" x2="385.20" y2="431.07" stroke="#808080" stroke-width="0.5"/>
<line x1="384.30" y1="437.85" x2="385.70" y2="437.85" stroke="#808080" stroke-width="0.6"/>
<text x="396.60" y="439.80" font-size="5.4" fill="#222" text-anchor="end" font-weight="normal" stroke="#222" stroke-width="0.06" >0.0</text>
<line x1="384.30" y1="444.62" x2="385.20" y2="444.62" stroke="#808080" stroke-width="0.5"/>
<line x1="384.30" y1="451.40" x2="385.70" y2="451.40" stroke="#808080" stroke-width="0.6"/>
<text x="396.60" y="453.35" font-size="5.4" fill="#222" text-anchor="end" font-weight="normal" stroke="#222" stroke-width="0.06" >-1.0</text>
<text x="315.80" y="396.00" font-size="6.2" fill="#111" text-anchor="start" font-weight="normal" stroke="#111" stroke-width="0.12" >Ag1G00772</text>
<text transform="translate(294.30,423.30) rotate(-90)" font-size="4.8" fill="#222" stroke="#222" stroke-width="0.06" text-anchor="middle" dominant-baseline="central" textLength="37.52" lengthAdjust="spacingAndGlyphs">Relative expression</text>
<text transform="translate(408.20,424.30) rotate(-90)" font-size="4.8" fill="#222" stroke="#222" stroke-width="0.06" text-anchor="middle" dominant-baseline="central" textLength="67.00" lengthAdjust="spacingAndGlyphs">Transcript abundance (Log2FPKM)</text>
<text x="324.30" y="459.30" font-size="5.1" fill="#222" text-anchor="middle" font-weight="normal" stroke="#222" stroke-width="0.06" >CK</text>
<text x="348.30" y="459.30" font-size="5.1" fill="#222" text-anchor="middle" font-weight="normal" stroke="#222" stroke-width="0.06" >HT</text>
<text x="372.40" y="459.30" font-size="5.1" fill="#222" text-anchor="middle" font-weight="normal" stroke="#222" stroke-width="0.06" >MTHT</text>
<rect x="319.50" y="444.60" width="9.60" height="6.80" fill="#6d9eeb"/>
<rect x="343.50" y="423.80" width="9.60" height="27.60" fill="#6d9eeb"/>
<rect x="367.60" y="433.20" width="9.60" height="18.20" fill="#6d9eeb"/>
<line x1="324.30" y1="442.60" x2="324.30" y2="446.60" stroke="#666" stroke-width="0.45"/>
<line x1="323.40" y1="442.60" x2="325.20" y2="442.60" stroke="#666" stroke-width="0.45"/>
<line x1="323.40" y1="446.60" x2="325.20" y2="446.60" stroke="#666" stroke-width="0.45"/>
<line x1="348.30" y1="422.30" x2="348.30" y2="425.30" stroke="#666" stroke-width="0.45"/>
<line x1="347.40" y1="422.30" x2="349.20" y2="422.30" stroke="#666" stroke-width="0.45"/>
<line x1="347.40" y1="425.30" x2="349.20" y2="425.30" stroke="#666" stroke-width="0.45"/>
<line x1="372.40" y1="432.40" x2="372.40" y2="434.00" stroke="#666" stroke-width="0.45"/>
<line x1="371.50" y1="432.40" x2="373.30" y2="432.40" stroke="#666" stroke-width="0.45"/>
<line x1="371.50" y1="434.00" x2="373.30" y2="434.00" stroke="#666" stroke-width="0.45"/>
<path d="M324.40,431.30 C328.35,427.63 340.12,412.10 348.10,409.30 C356.08,406.50 368.27,413.63 372.30,414.50" fill="none" stroke="#5a8bbf" stroke-width="1.0"/>
<polygon points="322.55,432.70 326.25,432.70 324.40,429.50" fill="#1c3366"/>
<polygon points="346.25,410.70 349.95,410.70 348.10,407.50" fill="#1c3366"/>
<polygon points="370.45,415.90 374.15,415.90 372.30,412.70" fill="#1c3366"/>
<text x="324.30" y="441.00" font-size="5.0" fill="#333" text-anchor="middle" font-weight="normal" >c</text>
<text x="348.30" y="420.30" font-size="5.0" fill="#333" text-anchor="middle" font-weight="normal" >a</text>
<text x="372.40" y="430.00" font-size="5.0" fill="#333" text-anchor="middle" font-weight="normal" >b</text>
<line x1="443.70" y1="397.20" x2="443.70" y2="451.40" stroke="#808080" stroke-width="0.6"/>
<line x1="517.40" y1="397.20" x2="517.40" y2="451.40" stroke="#808080" stroke-width="0.6"/>
<line x1="443.70" y1="451.40" x2="517.40" y2="451.40" stroke="#808080" stroke-width="0.6"/>
<line x1="442.30" y1="397.20" x2="443.70" y2="397.20" stroke="#808080" stroke-width="0.6"/>
<line x1="442.80" y1="403.97" x2="443.70" y2="403.97" stroke="#808080" stroke-width="0.5"/>
<text x="437.70" y="399.15" font-size="5.4" fill="#222" text-anchor="end" font-weight="normal" stroke="#222" stroke-width="0.06" >2.0</text>
<line x1="442.30" y1="410.75" x2="443.70" y2="410.75" stroke="#808080" stroke-width="0.6"/>
<line x1="442.80" y1="417.52" x2="443.70" y2="417.52" stroke="#808080" stroke-width="0.5"/>
<text x="437.70" y="412.70" font-size="5.4" fill="#222" text-anchor="end" font-weight="normal" stroke="#222" stroke-width="0.06" >1.5</text>
<line x1="442.30" y1="424.30" x2="443.70" y2="424.30" stroke="#808080" stroke-width="0.6"/>
<line x1="442.80" y1="431.07" x2="443.70" y2="431.07" stroke="#808080" stroke-width="0.5"/>
<text x="437.70" y="426.25" font-size="5.4" fill="#222" text-anchor="end" font-weight="normal" stroke="#222" stroke-width="0.06" >1.0</text>
<line x1="442.30" y1="437.85" x2="443.70" y2="437.85" stroke="#808080" stroke-width="0.6"/>
<line x1="442.80" y1="444.62" x2="443.70" y2="444.62" stroke="#808080" stroke-width="0.5"/>
<text x="437.70" y="439.80" font-size="5.4" fill="#222" text-anchor="end" font-weight="normal" stroke="#222" stroke-width="0.06" >0.5</text>
<line x1="442.30" y1="451.40" x2="443.70" y2="451.40" stroke="#808080" stroke-width="0.6"/>
<text x="437.70" y="453.35" font-size="5.4" fill="#222" text-anchor="end" font-weight="normal" stroke="#222" stroke-width="0.06" >0.0</text>
<line x1="517.40" y1="397.20" x2="518.80" y2="397.20" stroke="#808080" stroke-width="0.6"/>
<text x="535.71" y="399.15" font-size="5.4" fill="#222" text-anchor="end" font-weight="normal" stroke="#222" stroke-width="0.06" >500.0</text>
<line x1="517.40" y1="406.23" x2="518.30" y2="406.23" stroke="#808080" stroke-width="0.5"/>
<line x1="517.40" y1="415.27" x2="518.80" y2="415.27" stroke="#808080" stroke-width="0.6"/>
<text x="535.71" y="417.22" font-size="5.4" fill="#222" text-anchor="end" font-weight="normal" stroke="#222" stroke-width="0.06" >300.0</text>
<line x1="517.40" y1="424.30" x2="518.30" y2="424.30" stroke="#808080" stroke-width="0.5"/>
<line x1="517.40" y1="433.33" x2="518.80" y2="433.33" stroke="#808080" stroke-width="0.6"/>
<text x="535.71" y="435.28" font-size="5.4" fill="#222" text-anchor="end" font-weight="normal" stroke="#222" stroke-width="0.06" >100.0</text>
<line x1="517.40" y1="437.85" x2="518.30" y2="437.85" stroke="#808080" stroke-width="0.5"/>
<line x1="517.40" y1="442.37" x2="518.80" y2="442.37" stroke="#808080" stroke-width="0.6"/>
<text x="535.71" y="444.32" font-size="5.4" fill="#222" text-anchor="end" font-weight="normal" stroke="#222" stroke-width="0.06" >0.0</text>
<line x1="517.40" y1="446.88" x2="518.30" y2="446.88" stroke="#808080" stroke-width="0.5"/>
<line x1="517.40" y1="451.40" x2="518.80" y2="451.40" stroke="#808080" stroke-width="0.6"/>
<text x="535.71" y="453.35" font-size="5.4" fill="#222" text-anchor="end" font-weight="normal" stroke="#222" stroke-width="0.06" >-100.0</text>
<text x="448.30" y="396.00" font-size="6.2" fill="#111" text-anchor="start" font-weight="normal" stroke="#111" stroke-width="0.12" >Ag7G00597</text>
<text transform="translate(427.20,423.30) rotate(-90)" font-size="4.8" fill="#222" stroke="#222" stroke-width="0.06" text-anchor="middle" dominant-baseline="central" textLength="37.52" lengthAdjust="spacingAndGlyphs">Relative expression</text>
<text transform="translate(542.20,424.30) rotate(-90)" font-size="4.8" fill="#222" stroke="#222" stroke-width="0.06" text-anchor="middle" dominant-baseline="central" textLength="67.00" lengthAdjust="spacingAndGlyphs">Transcript abundance (Log2FPKM)</text>
<text x="456.60" y="459.30" font-size="5.1" fill="#222" text-anchor="middle" font-weight="normal" stroke="#222" stroke-width="0.06" >CK</text>
<text x="480.70" y="459.30" font-size="5.1" fill="#222" text-anchor="middle" font-weight="normal" stroke="#222" stroke-width="0.06" >HT</text>
<text x="505.00" y="459.30" font-size="5.1" fill="#222" text-anchor="middle" font-weight="normal" stroke="#222" stroke-width="0.06" >MTHT</text>
<rect x="451.80" y="424.20" width="9.60" height="27.20" fill="#6d9eeb"/>
<rect x="475.90" y="447.40" width="9.60" height="4.00" fill="#6d9eeb"/>
<rect x="500.20" y="439.70" width="9.60" height="11.70" fill="#6d9eeb"/>
<line x1="456.60" y1="420.70" x2="456.60" y2="427.70" stroke="#666" stroke-width="0.45"/>
<line x1="455.70" y1="420.70" x2="457.50" y2="420.70" stroke="#666" stroke-width="0.45"/>
<line x1="455.70" y1="427.70" x2="457.50" y2="427.70" stroke="#666" stroke-width="0.45"/>
<line x1="480.70" y1="446.40" x2="480.70" y2="448.40" stroke="#666" stroke-width="0.45"/>
<line x1="479.80" y1="446.40" x2="481.60" y2="446.40" stroke="#666" stroke-width="0.45"/>
<line x1="479.80" y1="448.40" x2="481.60" y2="448.40" stroke="#666" stroke-width="0.45"/>
<line x1="505.00" y1="438.20" x2="505.00" y2="441.20" stroke="#666" stroke-width="0.45"/>
<line x1="504.10" y1="438.20" x2="505.90" y2="438.20" stroke="#666" stroke-width="0.45"/>
<line x1="504.10" y1="441.20" x2="505.90" y2="441.20" stroke="#666" stroke-width="0.45"/>
<path d="M456.20,400.10 C460.25,406.27 472.40,432.33 480.50,437.10 C488.60,441.87 500.75,430.10 504.80,428.70" fill="none" stroke="#5a8bbf" stroke-width="1.0"/>
<polygon points="454.35,401.50 458.05,401.50 456.20,398.30" fill="#1c3366"/>
<polygon points="478.65,438.50 482.35,438.50 480.50,435.30" fill="#1c3366"/>
<polygon points="502.95,430.10 506.65,430.10 504.80,426.90" fill="#1c3366"/>
<text x="456.60" y="419.10" font-size="5.0" fill="#333" text-anchor="middle" font-weight="normal" >a</text>
<text x="480.70" y="445.20" font-size="5.0" fill="#333" text-anchor="middle" font-weight="normal" >c</text>
<text x="505.00" y="435.80" font-size="5.0" fill="#333" text-anchor="middle" font-weight="normal" >b</text>
<line x1="44.30" y1="475.30" x2="44.30" y2="529.40" stroke="#808080" stroke-width="0.6"/>
<line x1="117.10" y1="475.30" x2="117.10" y2="529.40" stroke="#808080" stroke-width="0.6"/>
<line x1="44.30" y1="529.40" x2="117.10" y2="529.40" stroke="#808080" stroke-width="0.6"/>
<line x1="42.90" y1="475.30" x2="44.30" y2="475.30" stroke="#808080" stroke-width="0.6"/>
<line x1="43.40" y1="482.06" x2="44.30" y2="482.06" stroke="#808080" stroke-width="0.5"/>
<text x="38.30" y="477.25" font-size="5.4" fill="#222" text-anchor="end" font-weight="normal" stroke="#222" stroke-width="0.06" >4.0</text>
<line x1="42.90" y1="488.82" x2="44.30" y2="488.82" stroke="#808080" stroke-width="0.6"/>
<line x1="43.40" y1="495.59" x2="44.30" y2="495.59" stroke="#808080" stroke-width="0.5"/>
<text x="38.30" y="490.77" font-size="5.4" fill="#222" text-anchor="end" font-weight="normal" stroke="#222" stroke-width="0.06" >3.0</text>
<line x1="42.90" y1="502.35" x2="44.30" y2="502.35" stroke="#808080" stroke-width="0.6"/>
<line x1="43.40" y1="509.11" x2="44.30" y2="509.11" stroke="#808080" stroke-width="0.5"/>
<text x="38.30" y="504.30" font-size="5.4" fill="#222" text-anchor="end" font-weight="normal" stroke="#222" stroke-width="0.06" >2.0</text>
<line x1="42.90" y1="515.88" x2="44.30" y2="515.88" stroke="#808080" stroke-width="0.6"/>
<line x1="43.40" y1="522.64" x2="44.30" y2="522.64" stroke="#808080" stroke-width="0.5"/>
<text x="38.30" y="517.83" font-size="5.4" fill="#222" text-anchor="end" font-weight="normal" stroke="#222" stroke-width="0.06" >1.0</text>
<line x1="42.90" y1="529.40" x2="44.30" y2="529.40" stroke="#808080" stroke-width="0.6"/>
<text x="38.30" y="531.35" font-size="5.4" fill="#222" text-anchor="end" font-weight="normal" stroke="#222" stroke-width="0.06" >0.0</text>
<line x1="117.10" y1="475.30" x2="118.50" y2="475.30" stroke="#808080" stroke-width="0.6"/>
<text x="129.40" y="477.25" font-size="5.4" fill="#222" text-anchor="end" font-weight="normal" stroke="#222" stroke-width="0.06" >8.0</text>
<line x1="117.10" y1="480.71" x2="118.00" y2="480.71" stroke="#808080" stroke-width="0.5"/>
<line x1="117.10" y1="486.12" x2="118.50" y2="486.12" stroke="#808080" stroke-width="0.6"/>
<text x="129.40" y="488.07" font-size="5.4" fill="#222" text-anchor="end" font-weight="normal" stroke="#222" stroke-width="0.06" >6.0</text>
<line x1="117.10" y1="491.53" x2="118.00" y2="491.53" stroke="#808080" stroke-width="0.5"/>
<line x1="117.10" y1="496.94" x2="118.50" y2="496.94" stroke="#808080" stroke-width="0.6"/>
<text x="129.40" y="498.89" font-size="5.4" fill="#222" text-anchor="end" font-weight="normal" stroke="#222" stroke-width="0.06" >4.0</text>
<line x1="117.10" y1="502.35" x2="118.00" y2="502.35" stroke="#808080" stroke-width="0.5"/>
<line x1="117.10" y1="507.76" x2="118.50" y2="507.76" stroke="#808080" stroke-width="0.6"/>
<text x="129.40" y="509.71" font-size="5.4" fill="#222" text-anchor="end" font-weight="normal" stroke="#222" stroke-width="0.06" >2.0</text>
<line x1="117.10" y1="513.17" x2="118.00" y2="513.17" stroke="#808080" stroke-width="0.5"/>
<line x1="117.10" y1="518.58" x2="118.50" y2="518.58" stroke="#808080" stroke-width="0.6"/>
<text x="129.40" y="520.53" font-size="5.4" fill="#222" text-anchor="end" font-weight="normal" stroke="#222" stroke-width="0.06" >0.0</text>
<line x1="117.10" y1="523.99" x2="118.00" y2="523.99" stroke="#808080" stroke-width="0.5"/>
<line x1="117.10" y1="529.40" x2="118.50" y2="529.40" stroke="#808080" stroke-width="0.6"/>
<text x="129.40" y="531.35" font-size="5.4" fill="#222" text-anchor="end" font-weight="normal" stroke="#222" stroke-width="0.06" >-2.0</text>
<text x="47.10" y="474.10" font-size="6.2" fill="#111" text-anchor="start" font-weight="normal" stroke="#111" stroke-width="0.12" >Ag3G00715</text>
<text transform="translate(22.30,501.35) rotate(-90)" font-size="4.8" fill="#222" stroke="#222" stroke-width="0.06" text-anchor="middle" dominant-baseline="central" textLength="37.52" lengthAdjust="spacingAndGlyphs">Relative expression</text>
<text transform="translate(141.10,502.35) rotate(-90)" font-size="4.8" fill="#222" stroke="#222" stroke-width="0.06" text-anchor="middle" dominant-baseline="central" textLength="67.00" lengthAdjust="spacingAndGlyphs">Transcript abundance (Log2FPKM)</text>
<text x="57.00" y="537.30" font-size="5.1" fill="#222" text-anchor="middle" font-weight="normal" stroke="#222" stroke-width="0.06" >CK</text>
<text x="80.90" y="537.30" font-size="5.1" fill="#222" text-anchor="middle" font-weight="normal" stroke="#222" stroke-width="0.06" >HT</text>
<text x="104.90" y="537.30" font-size="5.1" fill="#222" text-anchor="middle" font-weight="normal" stroke="#222" stroke-width="0.06" >MTHT</text>
<rect x="52.20" y="516.10" width="9.60" height="13.30" fill="#6d9eeb"/>
<rect x="76.10" y="526.40" width="9.60" height="3.00" fill="#6d9eeb"/>
<rect x="100.10" y="495.80" width="9.60" height="33.60" fill="#6d9eeb"/>
<line x1="57.00" y1="514.60" x2="57.00" y2="517.60" stroke="#666" stroke-width="0.45"/>
<line x1="56.10" y1="514.60" x2="57.90" y2="514.60" stroke="#666" stroke-width="0.45"/>
<line x1="56.10" y1="517.60" x2="57.90" y2="517.60" stroke="#666" stroke-width="0.45"/>
<line x1="80.90" y1="525.60" x2="80.90" y2="527.20" stroke="#666" stroke-width="0.45"/>
<line x1="80.00" y1="525.60" x2="81.80" y2="525.60" stroke="#666" stroke-width="0.45"/>
<line x1="80.00" y1="527.20" x2="81.80" y2="527.20" stroke="#666" stroke-width="0.45"/>
<line x1="104.90" y1="492.30" x2="104.90" y2="499.30" stroke="#666" stroke-width="0.45"/>
<line x1="104.00" y1="492.30" x2="105.80" y2="492.30" stroke="#666" stroke-width="0.45"/>
<line x1="104.00" y1="499.30" x2="105.80" y2="499.30" stroke="#666" stroke-width="0.45"/>
<path d="M57.00,505.20 C60.98,507.00 72.93,519.85 80.90,516.00 C88.87,512.15 100.82,487.75 104.80,482.10" fill="none" stroke="#5a8bbf" stroke-width="1.0"/>
<polygon points="55.15,506.60 58.85,506.60 57.00,503.40" fill="#1c3366"/>
<polygon points="79.05,517.40 82.75,517.40 80.90,514.20" fill="#1c3366"/>
<polygon points="102.95,483.50 106.65,483.50 104.80,480.30" fill="#1c3366"/>
<text x="57.00" y="514.40" font-size="5.0" fill="#333" text-anchor="middle" font-weight="normal" >b</text>
<text x="80.90" y="524.40" font-size="5.0" fill="#333" text-anchor="middle" font-weight="normal" >c</text>
<text x="104.90" y="490.50" font-size="5.0" fill="#333" text-anchor="middle" font-weight="normal" >a</text>
<line x1="179.10" y1="475.30" x2="179.10" y2="529.40" stroke="#808080" stroke-width="0.6"/>
<line x1="253.00" y1="475.30" x2="253.00" y2="529.40" stroke="#808080" stroke-width="0.6"/>
<line x1="179.10" y1="529.40" x2="253.00" y2="529.40" stroke="#808080" stroke-width="0.6"/>
<line x1="177.70" y1="475.30" x2="179.10" y2="475.30" stroke="#808080" stroke-width="0.6"/>
<line x1="178.20" y1="480.71" x2="179.10" y2="480.71" stroke="#808080" stroke-width="0.5"/>
<text x="173.10" y="477.25" font-size="5.4" fill="#222" text-anchor="end" font-weight="normal" stroke="#222" stroke-width="0.06" >10.0</text>
<line x1="177.70" y1="486.12" x2="179.10" y2="486.12" stroke="#808080" stroke-width="0.6"/>
<line x1="178.20" y1="491.53" x2="179.10" y2="491.53" stroke="#808080" stroke-width="0.5"/>
<text x="173.10" y="488.07" font-size="5.4" fill="#222" text-anchor="end" font-weight="normal" stroke="#222" stroke-width="0.06" >8.0</text>
<line x1="177.70" y1="496.94" x2="179.10" y2="496.94" stroke="#808080" stroke-width="0.6"/>
<line x1="178.20" y1="502.35" x2="179.10" y2="502.35" stroke="#808080" stroke-width="0.5"/>
<text x="173.10" y="498.89" font-size="5.4" fill="#222" text-anchor="end" font-weight="normal" stroke="#222" stroke-width="0.06" >6.0</text>
<line x1="177.70" y1="507.76" x2="179.10" y2="507.76" stroke="#808080" stroke-width="0.6"/>
<line x1="178.20" y1="513.17" x2="179.10" y2="513.17" stroke="#808080" stroke-width="0.5"/>
<text x="173.10" y="509.71" font-size="5.4" fill="#222" text-anchor="end" font-weight="normal" stroke="#222" stroke-width="0.06" >4.0</text>
<line x1="177.70" y1="518.58" x2="179.10" y2="518.58" stroke="#808080" stroke-width="0.6"/>
<line x1="178.20" y1="523.99" x2="179.10" y2="523.99" stroke="#808080" stroke-width="0.5"/>
<text x="173.10" y="520.53" font-size="5.4" fill="#222" text-anchor="end" font-weight="normal" stroke="#222" stroke-width="0.06" >2.0</text>
<line x1="177.70" y1="529.40" x2="179.10" y2="529.40" stroke="#808080" stroke-width="0.6"/>
<text x="173.10" y="531.35" font-size="5.4" fill="#222" text-anchor="end" font-weight="normal" stroke="#222" stroke-width="0.06" >0.0</text>
<line x1="253.00" y1="475.30" x2="254.40" y2="475.30" stroke="#808080" stroke-width="0.6"/>
<text x="266.51" y="477.25" font-size="5.4" fill="#222" text-anchor="end" font-weight="normal" stroke="#222" stroke-width="0.06" >35.0</text>
<line x1="253.00" y1="482.06" x2="253.90" y2="482.06" stroke="#808080" stroke-width="0.5"/>
<line x1="253.00" y1="488.82" x2="254.40" y2="488.82" stroke="#808080" stroke-width="0.6"/>
<text x="266.51" y="490.77" font-size="5.4" fill="#222" text-anchor="end" font-weight="normal" stroke="#222" stroke-width="0.06" >25.0</text>
<line x1="253.00" y1="495.59" x2="253.90" y2="495.59" stroke="#808080" stroke-width="0.5"/>
<line x1="253.00" y1="502.35" x2="254.40" y2="502.35" stroke="#808080" stroke-width="0.6"/>
<text x="266.51" y="504.30" font-size="5.4" fill="#222" text-anchor="end" font-weight="normal" stroke="#222" stroke-width="0.06" >15.0</text>
<line x1="253.00" y1="509.11" x2="253.90" y2="509.11" stroke="#808080" stroke-width="0.5"/>
<line x1="253.00" y1="515.88" x2="254.40" y2="515.88" stroke="#808080" stroke-width="0.6"/>
<text x="266.51" y="517.83" font-size="5.4" fill="#222" text-anchor="end" font-weight="normal" stroke="#222" stroke-width="0.06" >5.0</text>
<line x1="253.00" y1="519.26" x2="253.90" y2="519.26" stroke="#808080" stroke-width="0.5"/>
<line x1="253.00" y1="522.64" x2="254.40" y2="522.64" stroke="#808080" stroke-width="0.6"/>
<text x="266.51" y="524.59" font-size="5.4" fill="#222" text-anchor="end" font-weight="normal" stroke="#222" stroke-width="0.06" >0.0</text>
<line x1="253.00" y1="526.02" x2="253.90" y2="526.02" stroke="#808080" stroke-width="0.5"/>
<line x1="253.00" y1="529.40" x2="254.40" y2="529.40" stroke="#808080" stroke-width="0.6"/>
<text x="266.51" y="531.35" font-size="5.4" fill="#222" text-anchor="end" font-weight="normal" stroke="#222" stroke-width="0.06" >-5.0</text>
<text x="184.20" y="474.10" font-size="6.2" fill="#111" text-anchor="start" font-weight="normal" stroke="#111" stroke-width="0.12" >novel.720</text>
<text transform="translate(159.50,501.35) rotate(-90)" font-size="4.8" fill="#222" stroke="#222" stroke-width="0.06" text-anchor="middle" dominant-baseline="central" textLength="37.52" lengthAdjust="spacingAndGlyphs">Relative expression</text>
<text transform="translate(275.20,502.35) rotate(-90)" font-size="4.8" fill="#222" stroke="#222" stroke-width="0.06" text-anchor="middle" dominant-baseline="central" textLength="67.00" lengthAdjust="spacingAndGlyphs">Transcript abundance (Log2FPKM)</text>
<text x="192.20" y="537.30" font-size="5.1" fill="#222" text-anchor="middle" font-weight="normal" stroke="#222" stroke-width="0.06" >CK</text>
<text x="216.00" y="537.30" font-size="5.1" fill="#222" text-anchor="middle" font-weight="normal" stroke="#222" stroke-width="0.06" >HT</text>
<text x="240.40" y="537.30" font-size="5.1" fill="#222" text-anchor="middle" font-weight="normal" stroke="#222" stroke-width="0.06" >MTHT</text>
<rect x="187.40" y="524.10" width="9.60" height="5.30" fill="#6d9eeb"/>
<rect x="211.20" y="510.30" width="9.60" height="19.10" fill="#6d9eeb"/>
<rect x="235.60" y="483.10" width="9.60" height="46.30" fill="#6d9eeb"/>
<line x1="192.20" y1="522.60" x2="192.20" y2="525.60" stroke="#666" stroke-width="0.45"/>
<line x1="191.30" y1="522.60" x2="193.10" y2="522.60" stroke="#666" stroke-width="0.45"/>
<line x1="191.30" y1="525.60" x2="193.10" y2="525.60" stroke="#666" stroke-width="0.45"/>
<line x1="216.00" y1="507.30" x2="216.00" y2="513.30" stroke="#666" stroke-width="0.45"/>
<line x1="215.10" y1="507.30" x2="216.90" y2="507.30" stroke="#666" stroke-width="0.45"/>
<line x1="215.10" y1="513.30" x2="216.90" y2="513.30" stroke="#666" stroke-width="0.45"/>
<line x1="240.40" y1="479.10" x2="240.40" y2="487.10" stroke="#666" stroke-width="0.45"/>
<line x1="239.50" y1="479.10" x2="241.30" y2="479.10" stroke="#666" stroke-width="0.45"/>
<line x1="239.50" y1="487.10" x2="241.30" y2="487.10" stroke="#666" stroke-width="0.45"/>
<path d="M192.10,517.20 C196.10,514.58 208.05,508.25 216.10,501.50 C224.15,494.75 236.35,480.83 240.40,476.70" fill="none" stroke="#5a8bbf" stroke-width="1.0"/>
<polygon points="190.25,518.60 193.95,518.60 192.10,515.40" fill="#1c3366"/>
<polygon points="214.25,502.90 217.95,502.90 216.10,499.70" fill="#1c3366"/>
<polygon points="238.55,478.10 242.25,478.10 240.40,474.90" fill="#1c3366"/>
<text x="192.20" y="522.60" font-size="5.0" fill="#333" text-anchor="middle" font-weight="normal" >c</text>
<text x="216.00" y="506.60" font-size="5.0" fill="#333" text-anchor="middle" font-weight="normal" >b</text>
<text x="240.40" y="473.40" font-size="5.0" fill="#333" text-anchor="middle" font-weight="normal" >a</text>
<line x1="311.20" y1="475.30" x2="311.20" y2="529.40" stroke="#808080" stroke-width="0.6"/>
<line x1="385.00" y1="475.30" x2="385.00" y2="529.40" stroke="#808080" stroke-width="0.6"/>
<line x1="311.20" y1="529.40" x2="385.00" y2="529.40" stroke="#808080" stroke-width="0.6"/>
<line x1="309.80" y1="475.30" x2="311.20" y2="475.30" stroke="#808080" stroke-width="0.6"/>
<line x1="310.30" y1="484.32" x2="311.20" y2="484.32" stroke="#808080" stroke-width="0.5"/>
<text x="305.20" y="477.25" font-size="5.4" fill="#222" text-anchor="end" font-weight="normal" stroke="#222" stroke-width="0.06" >3.0</text>
<line x1="309.80" y1="493.33" x2="311.20" y2="493.33" stroke="#808080" stroke-width="0.6"/>
<line x1="310.30" y1="502.35" x2="311.20" y2="502.35" stroke="#808080" stroke-width="0.5"/>
<text x="305.20" y="495.28" font-size="5.4" fill="#222" text-anchor="end" font-weight="normal" stroke="#222" stroke-width="0.06" >2.0</text>
<line x1="309.80" y1="511.37" x2="311.20" y2="511.37" stroke="#808080" stroke-width="0.6"/>
<line x1="310.30" y1="520.38" x2="311.20" y2="520.38" stroke="#808080" stroke-width="0.5"/>
<text x="305.20" y="513.32" font-size="5.4" fill="#222" text-anchor="end" font-weight="normal" stroke="#222" stroke-width="0.06" >1.0</text>
<line x1="309.80" y1="529.40" x2="311.20" y2="529.40" stroke="#808080" stroke-width="0.6"/>
<text x="305.20" y="531.35" font-size="5.4" fill="#222" text-anchor="end" font-weight="normal" stroke="#222" stroke-width="0.06" >0.0</text>
<line x1="385.00" y1="475.30" x2="386.40" y2="475.30" stroke="#808080" stroke-width="0.6"/>
<text x="398.51" y="477.25" font-size="5.4" fill="#222" text-anchor="end" font-weight="normal" stroke="#222" stroke-width="0.06" >30.0</text>
<line x1="385.00" y1="484.32" x2="385.90" y2="484.32" stroke="#808080" stroke-width="0.5"/>
<line x1="385.00" y1="493.33" x2="386.40" y2="493.33" stroke="#808080" stroke-width="0.6"/>
<text x="398.51" y="495.28" font-size="5.4" fill="#222" text-anchor="end" font-weight="normal" stroke="#222" stroke-width="0.06" >20.0</text>
<line x1="385.00" y1="502.35" x2="385.90" y2="502.35" stroke="#808080" stroke-width="0.5"/>
<line x1="385.00" y1="511.37" x2="386.40" y2="511.37" stroke="#808080" stroke-width="0.6"/>
<text x="398.51" y="513.32" font-size="5.4" fill="#222" text-anchor="end" font-weight="normal" stroke="#222" stroke-width="0.06" >10.0</text>
<line x1="385.00" y1="520.38" x2="385.90" y2="520.38" stroke="#808080" stroke-width="0.5"/>
<line x1="385.00" y1="529.40" x2="386.40" y2="529.40" stroke="#808080" stroke-width="0.6"/>
<text x="398.51" y="531.35" font-size="5.4" fill="#222" text-anchor="end" font-weight="normal" stroke="#222" stroke-width="0.06" >0.0</text>
<text x="312.50" y="474.10" font-size="6.2" fill="#111" text-anchor="start" font-weight="normal" stroke="#111" stroke-width="0.12" >Ag11G03456</text>
<text transform="translate(294.40,501.35) rotate(-90)" font-size="4.8" fill="#222" stroke="#222" stroke-width="0.06" text-anchor="middle" dominant-baseline="central" textLength="37.52" lengthAdjust="spacingAndGlyphs">Relative expression</text>
<text transform="translate(407.40,502.35) rotate(-90)" font-size="4.8" fill="#222" stroke="#222" stroke-width="0.06" text-anchor="middle" dominant-baseline="central" textLength="67.00" lengthAdjust="spacingAndGlyphs">Transcript abundance (Log2FPKM)</text>
<text x="324.40" y="537.30" font-size="5.1" fill="#222" text-anchor="middle" font-weight="normal" stroke="#222" stroke-width="0.06" >CK</text>
<text x="348.60" y="537.30" font-size="5.1" fill="#222" text-anchor="middle" font-weight="normal" stroke="#222" stroke-width="0.06" >HT</text>
<text x="373.00" y="537.30" font-size="5.1" fill="#222" text-anchor="middle" font-weight="normal" stroke="#222" stroke-width="0.06" >MTHT</text>
<rect x="319.60" y="511.80" width="9.60" height="17.60" fill="#6d9eeb"/>
<rect x="343.80" y="527.10" width="9.60" height="2.30" fill="#6d9eeb"/>
<rect x="368.20" y="494.40" width="9.60" height="35.00" fill="#6d9eeb"/>
<line x1="324.40" y1="509.80" x2="324.40" y2="513.80" stroke="#666" stroke-width="0.45"/>
<line x1="323.50" y1="509.80" x2="325.30" y2="509.80" stroke="#666" stroke-width="0.45"/>
<line x1="323.50" y1="513.80" x2="325.30" y2="513.80" stroke="#666" stroke-width="0.45"/>
<line x1="348.60" y1="526.30" x2="348.60" y2="527.90" stroke="#666" stroke-width="0.45"/>
<line x1="347.70" y1="526.30" x2="349.50" y2="526.30" stroke="#666" stroke-width="0.45"/>
<line x1="347.70" y1="527.90" x2="349.50" y2="527.90" stroke="#666" stroke-width="0.45"/>
<line x1="373.00" y1="489.90" x2="373.00" y2="498.90" stroke="#666" stroke-width="0.45"/>
<line x1="372.10" y1="489.90" x2="373.90" y2="489.90" stroke="#666" stroke-width="0.45"/>
<line x1="372.10" y1="498.90" x2="373.90" y2="498.90" stroke="#666" stroke-width="0.45"/>
<path d="M324.40,491.30 C328.40,496.45 340.30,524.72 348.40,522.20 C356.50,519.68 368.90,483.87 373.00,476.20" fill="none" stroke="#5a8bbf" stroke-width="1.0"/>
<polygon points="322.55,492.70 326.25,492.70 324.40,489.50" fill="#1c3366"/>
<polygon points="346.55,523.60 350.25,523.60 348.40,520.40" fill="#1c3366"/>
<polygon points="371.15,477.60 374.85,477.60 373.00,474.40" fill="#1c3366"/>
<text x="324.40" y="507.90" font-size="5.0" fill="#333" text-anchor="middle" font-weight="normal" >b</text>
<text x="348.60" y="525.90" font-size="5.0" fill="#333" text-anchor="middle" font-weight="normal" >c</text>
<text x="373.00" y="488.50" font-size="5.0" fill="#333" text-anchor="middle" font-weight="normal" >a</text>
<line x1="444.30" y1="475.30" x2="444.30" y2="529.40" stroke="#808080" stroke-width="0.6"/>
<line x1="517.70" y1="475.30" x2="517.70" y2="529.40" stroke="#808080" stroke-width="0.6"/>
<line x1="444.30" y1="529.40" x2="517.70" y2="529.40" stroke="#808080" stroke-width="0.6"/>
<line x1="442.90" y1="475.30" x2="444.30" y2="475.30" stroke="#808080" stroke-width="0.6"/>
<line x1="443.40" y1="482.06" x2="444.30" y2="482.06" stroke="#808080" stroke-width="0.5"/>
<text x="438.30" y="477.25" font-size="5.4" fill="#222" text-anchor="end" font-weight="normal" stroke="#222" stroke-width="0.06" >4.0</text>
<line x1="442.90" y1="488.82" x2="444.30" y2="488.82" stroke="#808080" stroke-width="0.6"/>
<line x1="443.40" y1="495.59" x2="444.30" y2="495.59" stroke="#808080" stroke-width="0.5"/>
<text x="438.30" y="490.77" font-size="5.4" fill="#222" text-anchor="end" font-weight="normal" stroke="#222" stroke-width="0.06" >3.0</text>
<line x1="442.90" y1="502.35" x2="444.30" y2="502.35" stroke="#808080" stroke-width="0.6"/>
<line x1="443.40" y1="509.11" x2="444.30" y2="509.11" stroke="#808080" stroke-width="0.5"/>
<text x="438.30" y="504.30" font-size="5.4" fill="#222" text-anchor="end" font-weight="normal" stroke="#222" stroke-width="0.06" >2.0</text>
<line x1="442.90" y1="515.88" x2="444.30" y2="515.88" stroke="#808080" stroke-width="0.6"/>
<line x1="443.40" y1="522.64" x2="444.30" y2="522.64" stroke="#808080" stroke-width="0.5"/>
<text x="438.30" y="517.83" font-size="5.4" fill="#222" text-anchor="end" font-weight="normal" stroke="#222" stroke-width="0.06" >1.0</text>
<line x1="442.90" y1="529.40" x2="444.30" y2="529.40" stroke="#808080" stroke-width="0.6"/>
<text x="438.30" y="531.35" font-size="5.4" fill="#222" text-anchor="end" font-weight="normal" stroke="#222" stroke-width="0.06" >0.0</text>
<line x1="517.70" y1="475.30" x2="519.10" y2="475.30" stroke="#808080" stroke-width="0.6"/>
<text x="531.21" y="477.25" font-size="5.4" fill="#222" text-anchor="end" font-weight="normal" stroke="#222" stroke-width="0.06" >15.0</text>
<line x1="517.70" y1="484.32" x2="518.60" y2="484.32" stroke="#808080" stroke-width="0.5"/>
<line x1="517.70" y1="493.33" x2="519.10" y2="493.33" stroke="#808080" stroke-width="0.6"/>
<text x="531.21" y="495.28" font-size="5.4" fill="#222" text-anchor="end" font-weight="normal" stroke="#222" stroke-width="0.06" >10.0</text>
<line x1="517.70" y1="502.35" x2="518.60" y2="502.35" stroke="#808080" stroke-width="0.5"/>
<line x1="517.70" y1="511.37" x2="519.10" y2="511.37" stroke="#808080" stroke-width="0.6"/>
<text x="531.21" y="513.32" font-size="5.4" fill="#222" text-anchor="end" font-weight="normal" stroke="#222" stroke-width="0.06" >5.0</text>
<line x1="517.70" y1="520.38" x2="518.60" y2="520.38" stroke="#808080" stroke-width="0.5"/>
<line x1="517.70" y1="529.40" x2="519.10" y2="529.40" stroke="#808080" stroke-width="0.6"/>
<text x="531.21" y="531.35" font-size="5.4" fill="#222" text-anchor="end" font-weight="normal" stroke="#222" stroke-width="0.06" >0.0</text>
<text x="446.40" y="474.10" font-size="6.2" fill="#111" text-anchor="start" font-weight="normal" stroke="#111" stroke-width="0.12" >Ag2G01159</text>
<text transform="translate(426.70,501.35) rotate(-90)" font-size="4.8" fill="#222" stroke="#222" stroke-width="0.06" text-anchor="middle" dominant-baseline="central" textLength="37.52" lengthAdjust="spacingAndGlyphs">Relative expression</text>
<text transform="translate(540.90,502.35) rotate(-90)" font-size="4.8" fill="#222" stroke="#222" stroke-width="0.06" text-anchor="middle" dominant-baseline="central" textLength="67.00" lengthAdjust="spacingAndGlyphs">Transcript abundance (Log2FPKM)</text>
<text x="456.50" y="537.30" font-size="5.1" fill="#222" text-anchor="middle" font-weight="normal" stroke="#222" stroke-width="0.06" >CK</text>
<text x="480.90" y="537.30" font-size="5.1" fill="#222" text-anchor="middle" font-weight="normal" stroke="#222" stroke-width="0.06" >HT</text>
<text x="505.10" y="537.30" font-size="5.1" fill="#222" text-anchor="middle" font-weight="normal" stroke="#222" stroke-width="0.06" >MTHT</text>
<rect x="451.70" y="516.10" width="9.60" height="13.30" fill="#6d9eeb"/>
<rect x="476.10" y="502.50" width="9.60" height="26.90" fill="#6d9eeb"/>
<rect x="500.30" y="491.70" width="9.60" height="37.70" fill="#6d9eeb"/>
<line x1="456.50" y1="513.60" x2="456.50" y2="518.60" stroke="#666" stroke-width="0.45"/>
<line x1="455.60" y1="513.60" x2="457.40" y2="513.60" stroke="#666" stroke-width="0.45"/>
<line x1="455.60" y1="518.60" x2="457.40" y2="518.60" stroke="#666" stroke-width="0.45"/>
<line x1="480.90" y1="499.00" x2="480.90" y2="506.00" stroke="#666" stroke-width="0.45"/>
<line x1="480.00" y1="499.00" x2="481.80" y2="499.00" stroke="#666" stroke-width="0.45"/>
<line x1="480.00" y1="506.00" x2="481.80" y2="506.00" stroke="#666" stroke-width="0.45"/>
<line x1="505.10" y1="488.20" x2="505.10" y2="495.20" stroke="#666" stroke-width="0.45"/>
<line x1="504.20" y1="488.20" x2="506.00" y2="488.20" stroke="#666" stroke-width="0.45"/>
<line x1="504.20" y1="495.20" x2="506.00" y2="495.20" stroke="#666" stroke-width="0.45"/>
<path d="M456.60,506.00 C460.63,502.15 472.73,487.28 480.80,482.90 C488.87,478.52 500.97,480.23 505.00,479.70" fill="none" stroke="#5a8bbf" stroke-width="1.0"/>
<polygon points="454.75,507.40 458.45,507.40 456.60,504.20" fill="#1c3366"/>
<polygon points="478.95,484.30 482.65,484.30 480.80,481.10" fill="#1c3366"/>
<polygon points="503.15,481.10 506.85,481.10 505.00,477.90" fill="#1c3366"/>
<text x="456.50" y="512.40" font-size="5.0" fill="#333" text-anchor="middle" font-weight="normal" >c</text>
<text x="480.90" y="496.50" font-size="5.0" fill="#333" text-anchor="middle" font-weight="normal" >b</text>
<text x="505.10" y="487.10" font-size="5.0" fill="#333" text-anchor="middle" font-weight="normal" >a</text>
<rect x="482.40" y="398.40" width="9.90" height="1.90" fill="#6d9eeb"/>
<text x="494.90" y="401.20" font-size="4.8" fill="#333" text-anchor="start" font-weight="normal" textLength="18.32" lengthAdjust="spacingAndGlyphs" >RT-qPCR</text>
<line x1="482.40" y1="407.80" x2="492.30" y2="407.80" stroke="#5a8bbf" stroke-width="0.9"/>
<polygon points="485.80,408.90 488.80,408.90 487.30,406.30" fill="#1c3366"/>
<text x="494.90" y="409.60" font-size="4.8" fill="#333" text-anchor="start" font-weight="normal" textLength="17.44" lengthAdjust="spacingAndGlyphs" >RNA-seq</text>
</svg>
</body></html>
